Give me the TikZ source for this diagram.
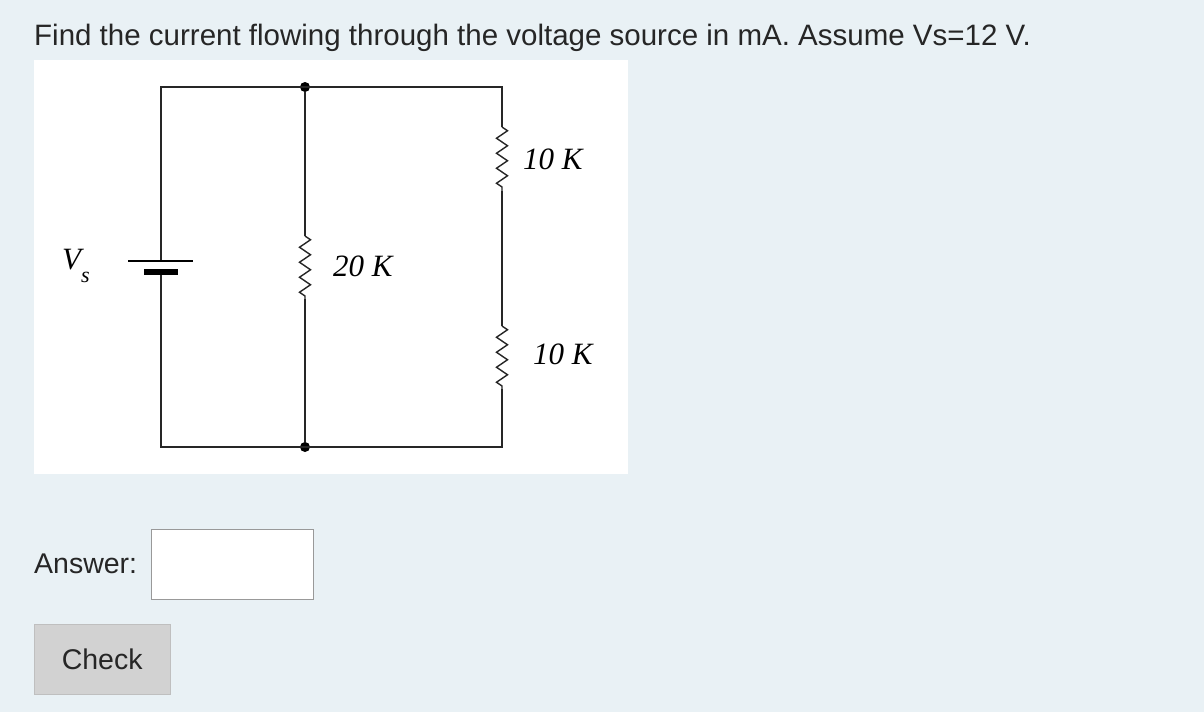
\documentclass[tikz,border=0pt]{standalone}
\usepackage{fontspec}
\setmainfont{Liberation Sans}
\newfontfamily\circfont{Liberation Serif}
\usetikzlibrary{decorations.pathmorphing}
\definecolor{bg}{HTML}{E9F1F5}
\definecolor{btn}{HTML}{D2D2D2}
\tikzset{
  wire/.style={line width=1.4pt, black!85},
  res/.style={wire, decorate, decoration={zigzag, segment length=15pt, amplitude=5.5pt}},
  lab/.style={font=\circfont\itshape\fontsize{31}{31}\selectfont, anchor=west, inner sep=0pt},
  dot/.style={circle, fill=black, inner sep=0pt, minimum size=10pt},
}
\begin{document}
\begin{tikzpicture}[x=1pt,y=-1pt]
\fill[bg] (0,0) rectangle (1204,712);
\useasboundingbox (0,0) rectangle (1204,712);
\node[anchor=west, inner sep=0pt, font=\fontsize{29.5}{29.5}\selectfont, text=black!85] (title) at (34,38) {Find the current flowing through the voltage source in mA. Assume Vs=12 V.};
\fill[white] (34,60) rectangle (628,474);
% coordinates
\coordinate (tl) at (161,87);
\coordinate (bl) at (161,447);
\node[dot] (tm) at (305,87) {};
\node[dot] (bm) at (305,447) {};
\coordinate (tr) at (502,87);
\coordinate (br) at (502,447);
\coordinate (bp1) at (161,261);
\coordinate (bp2) at (161,272);
\coordinate (r1a) at (305,236);
\coordinate (r1b) at (305,299);
\coordinate (r2a) at (502,127);
\coordinate (r2b) at (502,191);
\coordinate (r3a) at (502,326);
\coordinate (r3b) at (502,389);
% wires
\draw[wire] (bp1) -- (tl) -- (tm.center) -- (tr) -- (r2a);
\draw[wire] (bp2) -- (bl) -- (bm.center) -- (br) -- (r3b);
\draw[wire] (tm) -- (r1a);
\draw[wire] (r1b) -- (bm);
\draw[wire] (r2b) -- (r3a);
\draw[res] (r1a) -- (r1b);
\draw[res] (r2a) -- (r2b);
\draw[res] (r3a) -- (r3b);
% battery
\draw[line width=1.4pt] (128,261) -- (193,261);
\draw[line width=6pt] (144,272) -- (178,272);
% labels
\node[lab] (vs) at (62,266) {V\raisebox{-13pt}{\fontsize{22}{22}\selectfont s}};
\node[lab] (l1) at (333,266) {20 K};
\node[lab] (l2) at (523,159) {10 K};
\node[lab] (l3) at (533,354) {10 K};
% answer
\node[anchor=west, inner sep=0pt, font=\fontsize{28.5}{28.5}\selectfont, text=black!85] (ans) at (34,564) {Answer:};
\draw[fill=white, draw=black!40, line width=1pt] (151,529) rectangle (313,599);
\node[draw=black!25, fill=btn, minimum width=136pt, minimum height=70pt, anchor=north west, font=\fontsize{28.5}{28.5}\selectfont, text=black!85] (chk) at (34,624) {Check};
\end{tikzpicture}
\end{document}
